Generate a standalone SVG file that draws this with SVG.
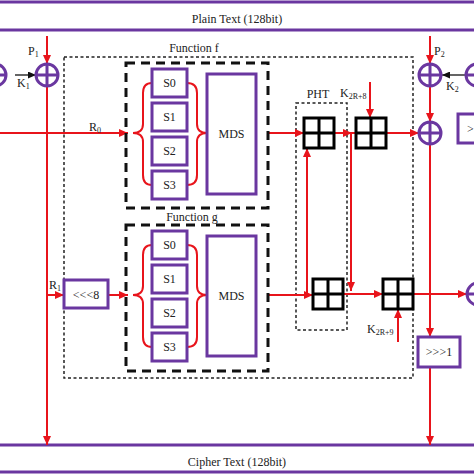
<svg xmlns="http://www.w3.org/2000/svg" width="474" height="474" viewBox="0 0 474 474">
<style>
text{font-family:"Liberation Serif","Times New Roman",serif;font-size:12px;fill:#222}
.c{text-anchor:middle}
.pu{fill:#fff;stroke:#6a37a0;stroke-width:3}
.band{stroke:#6a37a0;stroke-width:3}
.r{fill:none;stroke:#e8141b;stroke-width:2}
.ra{fill:none;stroke:#e8141b;stroke-width:2;marker-end:url(#ar)}
.ka{fill:none;stroke:#111;stroke-width:1.3;marker-end:url(#ak)}
.sq{fill:#fff;stroke:#000;stroke-width:3}
.dot{fill:none;stroke:#222;stroke-width:1.5;stroke-dasharray:3 2.5}
.dash{fill:none;stroke:#111;stroke-width:3;stroke-dasharray:9 6}
.x{fill:none;stroke:#6a37a0;stroke-width:3}
.sub{font-size:8px}
</style>
<defs>
<marker id="ar" markerWidth="9" markerHeight="8" refX="9" refY="4" orient="auto" markerUnits="userSpaceOnUse"><path d="M0,0 L9,4 L0,8 Z" fill="#e8141b"/></marker>
<marker id="ak" markerWidth="8" markerHeight="7" refX="8" refY="3.5" orient="auto" markerUnits="userSpaceOnUse"><path d="M0,0 L8,3.5 L0,7 Z" fill="#111"/></marker>
<g id="xorsym"><circle r="11" class="x"/><path d="M-11,0 H11 M0,-11 V11" class="x"/></g>
</defs>
<rect width="474" height="474" fill="#fff"/>

<g id="plain">
<line x1="0" y1="2" x2="474" y2="2" class="band"/>
<line x1="0" y1="30" x2="474" y2="30" class="band"/>
<text x="237" y="23" class="c">Plain Text (128bit)</text>
</g>
<g id="cipher">
<line x1="0" y1="445" x2="474" y2="445" class="band"/>
<line x1="0" y1="472" x2="474" y2="472" class="band"/>
<text x="237" y="466" class="c">Cipher Text (128bit)</text>
</g>

<g id="frame">
<rect x="64" y="57" width="349" height="321" class="dot"/>
<text x="194" y="52" class="c">Function f</text>
</g>
<g id="pht">
<rect x="296" y="103" width="51" height="227" class="dot"/>
<text x="318" y="98" class="c">PHT</text>
</g>

<g id="connectors">
<!-- left column -->
<line x1="47" y1="36" x2="47" y2="64" class="ra"/>
<line x1="47" y1="86" x2="47" y2="445" class="ra"/>
<line x1="15" y1="75" x2="36" y2="75" class="ka"/>
<line x1="0" y1="133" x2="128" y2="133" class="ra"/>
<line x1="47" y1="295" x2="64" y2="295" class="ra"/>
<line x1="108" y1="295" x2="128" y2="295" class="ra"/>
<!-- braces f -->
<path d="M152,83 Q143,83 143,93 L143,124 Q143,133 133,133 Q143,133 143,142 L143,175 Q143,185 152,185" class="r"/>
<path d="M187,83 Q197,83 197,93 L197,124 Q197,133 207,133 Q197,133 197,142 L197,175 Q197,185 187,185" class="r"/>
<!-- braces g -->
<path d="M152,245 Q143,245 143,255 L143,286 Q143,295 133,295 Q143,295 143,304 L143,337 Q143,347 152,347" class="r"/>
<path d="M187,245 Q197,245 197,255 L197,286 Q197,295 207,295 Q197,295 197,304 L197,337 Q197,347 187,347" class="r"/>
<!-- f, g outputs -->
<line x1="268" y1="133" x2="304" y2="133" class="ra"/>
<line x1="268" y1="295" x2="313" y2="295" class="ra"/>
<line x1="307" y1="295" x2="307" y2="148" class="ra"/>
<line x1="334" y1="133" x2="356" y2="133" class="r"/>
<line x1="334" y1="133" x2="352" y2="133" class="ra"/>
<line x1="351" y1="133" x2="351" y2="291" class="ra"/>
<line x1="343" y1="294" x2="383" y2="294" class="ra"/>
<line x1="370" y1="82" x2="370" y2="118" class="ra"/>
<line x1="398" y1="342" x2="398" y2="309" class="ra"/>
<line x1="385" y1="133" x2="419" y2="133" class="ra"/>
<line x1="413" y1="294" x2="467" y2="294" class="ra"/>
<!-- right column -->
<line x1="430" y1="36" x2="430" y2="64" class="ra"/>
<line x1="466" y1="75" x2="442" y2="75" class="ka"/>
<line x1="430" y1="86" x2="430" y2="122" class="ra"/>
<line x1="430" y1="144" x2="430" y2="337" class="ra"/>
<line x1="430" y1="367" x2="430" y2="445" class="ra"/>
</g>

<g id="xor-left"><use href="#xorsym" x="47" y="75"/></g>
<g id="xor-left-edge"><use href="#xorsym" x="-5" y="75"/></g>
<g id="xor-p2"><use href="#xorsym" x="430" y="75"/></g>
<g id="xor-k2-edge"><use href="#xorsym" x="477" y="75"/></g>
<g id="xor-out"><use href="#xorsym" x="430" y="133"/></g>
<g id="xor-out2-edge"><use href="#xorsym" x="478" y="294"/></g>

<g id="labels">
<text x="28" y="55">P<tspan class="sub" dy="2">1</tspan></text>
<text x="17" y="87">K<tspan class="sub" dy="2">1</tspan></text>
<text x="434" y="55">P<tspan class="sub" dy="2">2</tspan></text>
<text x="446" y="90">K<tspan class="sub" dy="2">2</tspan></text>
<text x="89" y="131">R<tspan class="sub" dy="2">0</tspan></text>
<text x="49" y="289">R<tspan class="sub" dy="2">1</tspan></text>
<text x="340" y="97">K<tspan class="sub" dy="2">2R+8</tspan></text>
<text x="367" y="333">K<tspan class="sub" dy="2">2R+9</tspan></text>
</g>

<g id="rot8">
<rect x="64" y="280" width="44" height="28" class="pu"/>
<text x="86" y="299" class="c">&lt;&lt;&lt;8</text>
</g>

<g id="func-f">
<rect x="126" y="63" width="142" height="145" class="dash"/>
</g>
<g id="f-s0"><rect x="152" y="69" width="35" height="28" class="pu"/><text x="169.5" y="87" class="c">S0</text></g>
<g id="f-s1"><rect x="152" y="103" width="35" height="28" class="pu"/><text x="169.5" y="121" class="c">S1</text></g>
<g id="f-s2"><rect x="152" y="137" width="35" height="28" class="pu"/><text x="169.5" y="155" class="c">S2</text></g>
<g id="f-s3"><rect x="152" y="171" width="35" height="28" class="pu"/><text x="169.5" y="189" class="c">S3</text></g>
<g id="f-mds"><rect x="207" y="74" width="49" height="120" class="pu"/><text x="231.5" y="138" class="c">MDS</text></g>

<g id="func-g">
<text x="192" y="221" class="c">Function g</text>
<rect x="126" y="225" width="142" height="146" class="dash"/>
</g>
<g id="g-s0"><rect x="152" y="231" width="35" height="28" class="pu"/><text x="169.5" y="249" class="c">S0</text></g>
<g id="g-s1"><rect x="152" y="265" width="35" height="28" class="pu"/><text x="169.5" y="283" class="c">S1</text></g>
<g id="g-s2"><rect x="152" y="299" width="35" height="28" class="pu"/><text x="169.5" y="317" class="c">S2</text></g>
<g id="g-s3"><rect x="152" y="333" width="35" height="28" class="pu"/><text x="169.5" y="351" class="c">S3</text></g>
<g id="g-mds"><rect x="207" y="236" width="49" height="120" class="pu"/><text x="231.5" y="300" class="c">MDS</text></g>

<g id="add1"><rect x="304" y="118" width="30" height="30" class="sq"/><path d="M319,118 V148 M304,133 H334" class="sq"/></g>
<g id="add2"><rect x="356" y="118" width="30" height="30" class="sq"/><path d="M371,118 V148 M356,133 H386" class="sq"/></g>
<g id="add3"><rect x="313" y="279" width="30" height="30" class="sq"/><path d="M328,279 V309 M313,294 H343" class="sq"/></g>
<g id="add4"><rect x="383" y="279" width="30" height="30" class="sq"/><path d="M398,279 V309 M383,294 H413" class="sq"/></g>

<g id="rot1-top"><rect x="458" y="114" width="30" height="29" class="pu"/><text x="467" y="133" fill="#555">&gt;</text></g>
<g id="rot1"><rect x="418" y="337" width="42" height="30" class="pu"/><text x="439" y="356" class="c">&gt;&gt;&gt;1</text></g>
</svg>
